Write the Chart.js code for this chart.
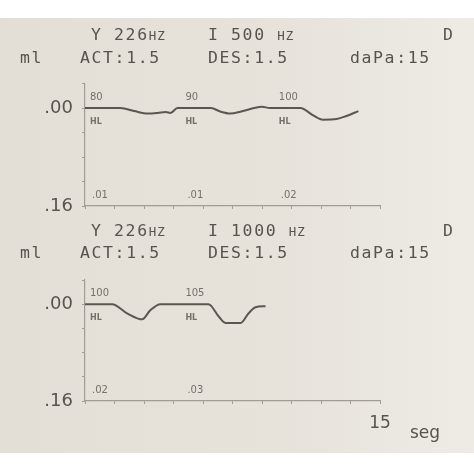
<!DOCTYPE html>
<html>
<head>
<meta charset="utf-8">
<script src="https://cdn.jsdelivr.net/npm/chart.js@4"></script>
<style>
  body { margin: 0; background: #fff; }
  #wrap { position: relative; width: 474px; height: 474px; overflow: hidden; }
  #paper { position: absolute; left: 0; top: 18px; width: 474px; height: 435px;
           background: linear-gradient(to right, #e3dfd6 0%, #e7e3db 60%, #eeebe5 100%); }
  canvas { position: absolute; left: 0; }
  .h { position: absolute; font: 16.5px "DejaVu Sans Mono", monospace; letter-spacing: 1.6px;
       color: #57544e; line-height: 1; transform: translateY(-50%); white-space: pre; }
  .h small { font-size: 12.5px; letter-spacing: 1px; }
  .s { position: absolute; font: 17px "DejaVu Sans", sans-serif; color: #57544e;
       line-height: 1; transform: translateY(-50%); }
</style>
</head>
<body>
<div id="wrap">
  <div id="paper"></div>
  <canvas id="chartTop" width="474" height="237" style="top:0"></canvas>
  <canvas id="chartBottom" width="474" height="237" style="top:237px"></canvas>

  <span class="h" style="left:91px;top:35px">Y 226<small>HZ</small></span>
  <span class="h" style="left:208px;top:35px">I 500 <small>HZ</small></span>
  <span class="h" style="left:443px;top:35px">D</span>
  <span class="h" style="left:20px;top:58px">ml</span>
  <span class="h" style="left:80px;top:58px">ACT:1.5</span>
  <span class="h" style="left:208px;top:58px">DES:1.5</span>
  <span class="h" style="left:350px;top:58px">daPa:15</span>

  <span class="h" style="left:91px;top:231px">Y 226<small>HZ</small></span>
  <span class="h" style="left:208px;top:231px">I 1000 <small>HZ</small></span>
  <span class="h" style="left:443px;top:231px">D</span>
  <span class="h" style="left:20px;top:253px">ml</span>
  <span class="h" style="left:80px;top:253px">ACT:1.5</span>
  <span class="h" style="left:208px;top:253px">DES:1.5</span>
  <span class="h" style="left:350px;top:253px">daPa:15</span>

  <span class="s" style="left:410px;top:432px">seg</span>
</div>
<script>
// reflex traces, time in seconds, compliance change in ml
var timeTop = [0, 1.8, 2.5, 3.2, 3.7, 4.1, 4.35, 4.7, 6.4, 6.9, 7.4, 7.9, 8.6, 9.0, 9.4, 10.95, 11.6, 12.1, 12.8, 13.3, 13.9];
var volTop = [0, 0, 0.005, 0.009, 0.008, 0.0065, 0.008, 0, 0, 0.006, 0.009, 0.006, 0, -0.002, 0, 0, 0.012, 0.019, 0.018, 0.013, 0.005];

var timeBottom = [0, 1.38, 2.14, 2.91, 3.32, 3.83, 6.28, 6.79, 7.14, 7.91, 8.32, 8.67, 9.18];
var volBottom = [0, 0, 0.015, 0.025, 0.01, 0, 0, 0.02, 0.031, 0.031, 0.015, 0.005, 0.0033];

// stimulus onsets, levels (dB HL) and reflex amplitudes printed under each
var onsetTop = [0, 4.85, 9.6];
var levelTop = ['80', '90', '100'];
var ampTop = ['.01', '.01', '.02'];
var onsetBottom = [0, 4.85];
var levelBottom = ['100', '105'];
var ampBottom = ['.02', '.03'];

var xTicks = [0, 1.5, 3, 4.5, 6, 7.5, 9, 10.5, 12, 13.5, 15];
var yTicks = [-0.04, 0, 0.04, 0.08, 0.12, 0.16];

var ink = '#57544e';
var axisCol = '#a19d94';

var stimLabels = {
    id: 'stimLabels',
    afterDatasetsDraw: function (chart, args, opts) {
        var ctx = chart.ctx;
        var x = chart.scales.x, y = chart.scales.y;
        var y0 = y.getPixelForValue(0);
        var yb = y.getPixelForValue(0.16);
        ctx.save();
        ctx.fillStyle = '#75716a';
        ctx.textBaseline = 'middle';
        ctx.textAlign = 'left';
        opts.onsets.forEach(function (t, i) {
            var px = x.getPixelForValue(t) + 5;
            ctx.font = '10px "DejaVu Sans"';
            ctx.fillText(opts.levels[i], px, y0 - 11);
            ctx.font = 'bold 8px "DejaVu Sans"';
            ctx.fillText('HL', px, y0 + 14);
            ctx.font = '10px "DejaVu Sans"';
            ctx.fillText(opts.amps[i], px + 2, yb - 11);
        });
        ctx.restore();
    }
};

function makeChart(id, times, vols, onsets, levels, amps, topPad, xHeight, showEnd) {
    var pts = times.map(function (t, i) { return { x: t, y: vols[i] }; });
    return new Chart(document.getElementById(id), {
        type: 'line',
        data: {
            datasets: [{
                data: pts,
                borderColor: '#5a5751',
                borderWidth: 2,
                pointRadius: 0,
                fill: false,
                cubicInterpolationMode: 'monotone'
            }]
        },
        options: {
            responsive: false,
            animation: false,
            layout: { padding: { top: topPad, right: 94, left: 0, bottom: 0 } },
            plugins: {
                legend: { display: false },
                tooltip: { enabled: false },
                stimLabels: { onsets: onsets, levels: levels, amps: amps }
            },
            scales: {
                x: {
                    type: 'linear',
                    min: 0,
                    max: 15,
                    afterBuildTicks: function (s) { s.ticks = xTicks.map(function (v) { return { value: v }; }); },
                    afterFit: function (s) { s.height = xHeight; },
                    grid: { drawOnChartArea: false, drawTicks: true, tickLength: 3, color: axisCol },
                    border: { display: true, color: axisCol, width: 1.2 },
                    ticks: {
                        autoSkip: false,
                        maxRotation: 0,
                        padding: 9,
                        color: ink,
                        font: { family: 'DejaVu Sans', size: 17 },
                        callback: function (v) { return (showEnd && v === 15) ? '15' : ''; }
                    }
                },
                y: {
                    type: 'linear',
                    reverse: true,
                    min: -0.04,
                    max: 0.16,
                    afterBuildTicks: function (s) { s.ticks = yTicks.map(function (v) { return { value: v }; }); },
                    afterFit: function (s) { s.width = 85; },
                    grid: { drawOnChartArea: false, drawTicks: true, tickLength: 3, color: axisCol },
                    border: { display: true, color: axisCol, width: 1.2 },
                    ticks: {
                        autoSkip: false,
                        padding: 9,
                        color: ink,
                        font: { family: 'DejaVu Sans', size: 18 },
                        callback: function (v) {
                            if (v === 0) return '.00';
                            if (Math.abs(v - 0.16) < 1e-6) return '.16';
                            return '';
                        }
                    }
                }
            }
        },
        plugins: [stimLabels]
    });
}

makeChart('chartTop', timeTop, volTop, onsetTop, levelTop, ampTop, 83.5, 31, false);
makeChart('chartBottom', timeBottom, volBottom, onsetBottom, levelBottom, ampBottom, 43, 73, true);
</script>
</body>
</html>
